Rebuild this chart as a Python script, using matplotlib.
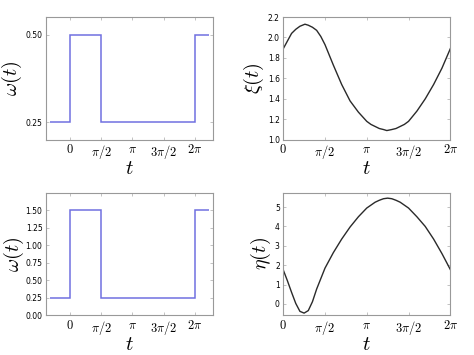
import numpy as np
import matplotlib
matplotlib.use("Agg")
import matplotlib.pyplot as plt

plt.rcParams['mathtext.fontset'] = 'cm'

# step profiles for omega(t)
t_edges = np.array([-1.0, 0.0, np.pi / 2, 2 * np.pi, 7.0])
omega_top = [0.25, 0.50, 0.25, 0.50]
omega_bot = [0.25, 1.50, 0.25, 1.50]

# xi(t) and eta(t) (t in units of pi/10)
k_xi = [0, 1, 1.5, 2, 2.6, 3, 3.5, 4, 4.5, 5, 6, 7, 8, 9, 10, 10.5, 11, 11.5, 12, 12.4,
        13, 13.5, 14, 14.5, 15, 16, 17, 18, 19, 20]
xi = [1.89, 2.04, 2.08, 2.11, 2.13, 2.12, 2.10, 2.07, 2.01, 1.93, 1.73, 1.54, 1.38, 1.27,
      1.18, 1.15, 1.13, 1.11, 1.10, 1.09, 1.10, 1.11, 1.13, 1.15, 1.18, 1.28, 1.40, 1.54,
      1.70, 1.89]

k_eta = [0, 0.5, 1, 1.5, 2, 2.5, 3, 3.5, 4, 5, 6, 7, 8, 9, 10, 11, 11.5, 12, 12.5, 13,
         13.5, 14, 15, 16, 17, 18, 19, 20]
eta = [1.76, 1.20, 0.60, 0.03, -0.38, -0.47, -0.34, 0.12, 0.77, 1.85, 2.65, 3.35, 3.97,
       4.50, 4.95, 5.25, 5.35, 5.43, 5.46, 5.43, 5.35, 5.25, 4.95, 4.50, 4.00, 3.35, 2.60,
       1.78]

t_xi = np.array(k_xi) * np.pi / 10
t_eta = np.array(k_eta) * np.pi / 10

pi_ticks = [0, np.pi / 2, np.pi, 3 * np.pi / 2, 2 * np.pi]
pi_labels = [r'$0$', r'$\pi/2$', r'$\pi$', r'$3\pi/2$', r'$2\pi$']

step_color = '#7070e0'
curve_color = '#2a2a2a'

fig, axes = plt.subplots(2, 2, figsize=(4.74, 3.55), dpi=100)
fig.subplots_adjust(left=0.097, right=0.95, top=0.952, bottom=0.112,
                    wspace=0.42, hspace=0.43)

def style(ax):
    for s in ax.spines.values():
        s.set_color('#999999')
        s.set_linewidth(0.8)
    ax.tick_params(direction='in', length=2.5, width=0.5, color='#aaaaaa',
                   top=True, right=True, pad=2.5)
    ax.tick_params(axis='y', labelsize=5.5)
    ax.set_xticks(pi_ticks)
    ax.set_xticklabels(pi_labels, fontsize=9)
    ax.set_xlabel(r'$t$', fontsize=15, labelpad=-2)

# omega, top
ax = axes[0, 0]
ax.stairs(omega_top, t_edges, baseline=None, color=step_color, lw=1.1)
ax.set_xlim(-1.2, 7.2)
ax.set_ylim(0.2, 0.55)
ax.set_yticks([0.25, 0.50])
ax.set_yticklabels(['0.25', '0.50'])
style(ax)
ax.set_ylabel(r'$\omega(t)$', fontsize=14.5, labelpad=1)

# xi
ax = axes[0, 1]
ax.plot(t_xi, xi, color=curve_color, lw=1.0)
ax.set_xlim(0, 2 * np.pi)
ax.set_ylim(1.0, 2.2)
ax.set_yticks(np.arange(1.0, 2.21, 0.2))
ax.set_yticklabels(['%.1f' % v for v in np.arange(1.0, 2.21, 0.2)])
style(ax)
ax.set_ylabel(r'$\xi(t)$', fontsize=14.5, labelpad=1)

# omega, bottom
ax = axes[1, 0]
ax.stairs(omega_bot, t_edges, baseline=None, color=step_color, lw=1.1)
ax.set_xlim(-1.2, 7.2)
ax.set_ylim(0, 1.75)
ax.set_yticks(np.arange(0, 1.51, 0.25))
ax.set_yticklabels(['%.2f' % v for v in np.arange(0, 1.51, 0.25)])
style(ax)
ax.set_ylabel(r'$\omega(t)$', fontsize=14.5, labelpad=0)

# eta
ax = axes[1, 1]
ax.plot(t_eta, eta, color=curve_color, lw=1.0)
ax.set_xlim(0, 2 * np.pi)
ax.set_ylim(-0.58, 5.75)
ax.set_yticks([0, 1, 2, 3, 4, 5])
style(ax)
ax.set_ylabel(r'$\eta(t)$', fontsize=14.5, labelpad=1)

fig.savefig('out.png', dpi=100)
